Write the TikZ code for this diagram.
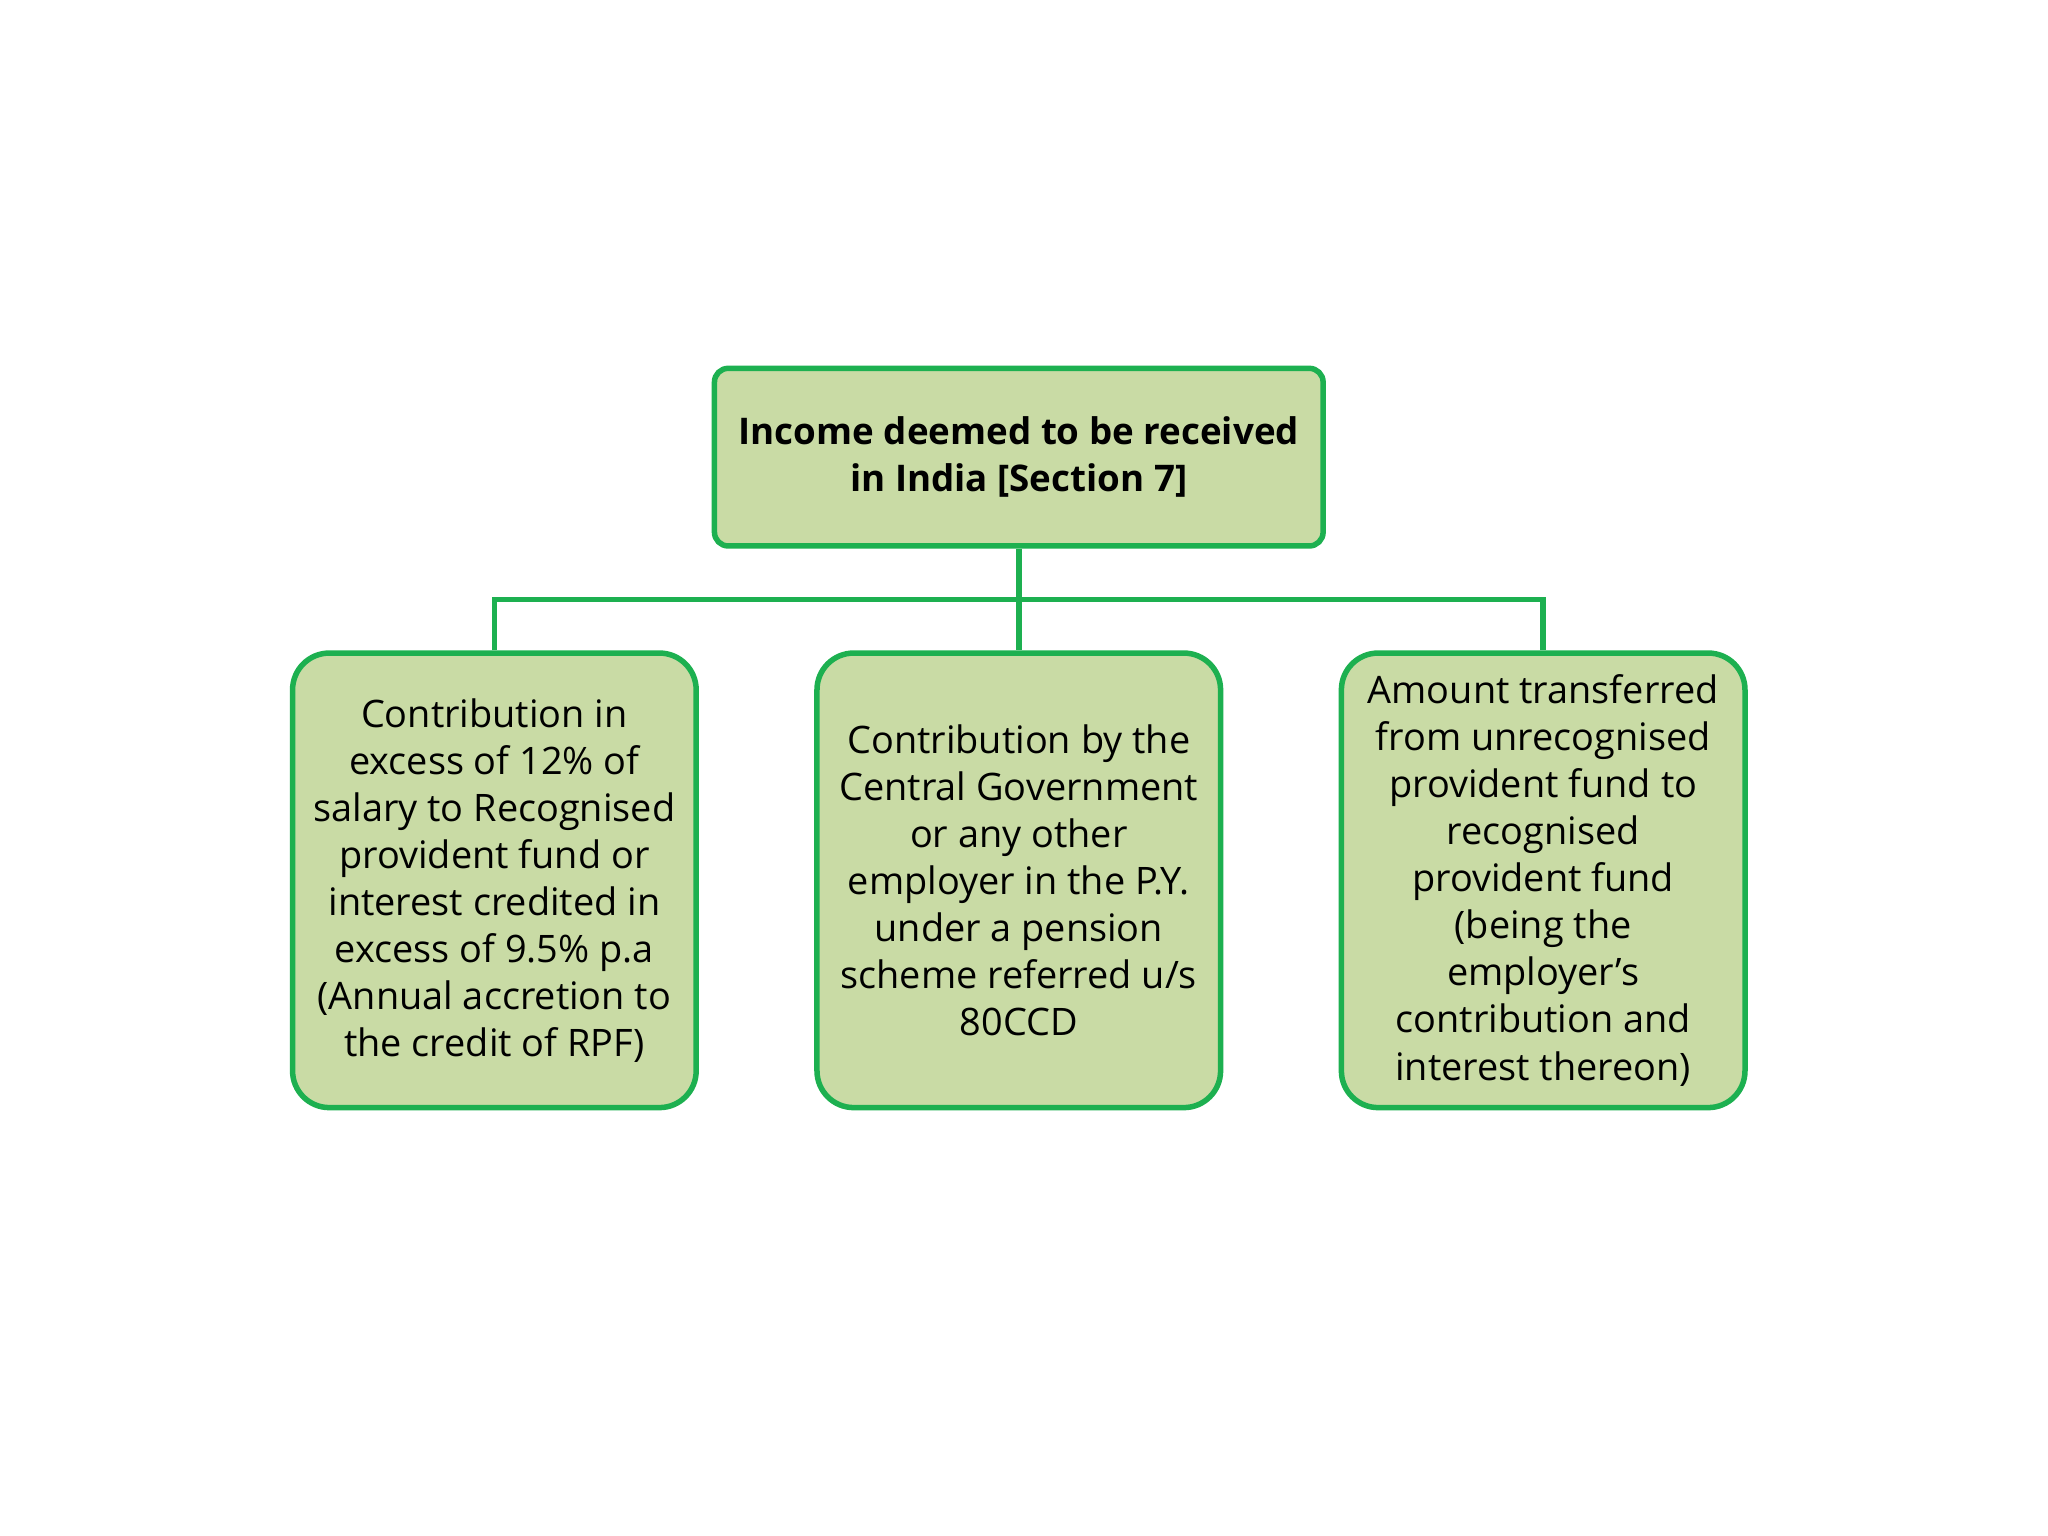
\documentclass[tikz,border=0pt]{standalone}
\usepackage{fontspec}
\setmainfont{Open Sans}
\definecolor{boxfill}{HTML}{C9DBA5}
\definecolor{boxline}{HTML}{1DB050}
\begin{document}
\begin{tikzpicture}[x=0.02cm,y=-0.02cm,
  topbox/.style={draw=boxline,fill=boxfill,line width=2.4pt,rounded corners=6pt,align=center,font=\fontsize{16}{20.5}\selectfont\bfseries,minimum width=466*0.02cm,minimum height=136*0.02cm,inner sep=0pt},
  subbox/.style={draw=boxline,fill=boxfill,line width=2.4pt,rounded corners=16pt,align=center,font=\fontsize{16.5}{20.5}\selectfont,minimum width=309*0.02cm,minimum height=348*0.02cm,inner sep=0pt},
  link/.style={draw=boxline,line width=2.4pt}]
\useasboundingbox (0,0) rectangle (1568,1176);
\node[topbox] (top) at (780,350) {Income deemed to be received\\in India [Section 7]};
\node[subbox] (a) at (378.5,674) {Contribution in\\excess of 12\% of\\salary to Recognised\\provident fund or\\interest credited in\\excess of 9.5\% p.a\\(Annual accretion to\\the credit of RPF)};
\node[subbox] (b) at (780,674) {Contribution by the\\Central Government\\or any other\\employer in the P.Y.\\under a pension\\scheme referred u/s\\80CCD};
\node[subbox] (c) at (1181.5,674) {Amount transferred\\from unrecognised\\provident fund to\\recognised\\provident fund\\(being the\\employer's\\contribution and\\interest thereon)};
\coordinate (j) at (780,459);
\draw[link] (top.south) -- (b.north);
\draw[link] (a.north) |- (j) -| (c.north);
\end{tikzpicture}
\end{document}
